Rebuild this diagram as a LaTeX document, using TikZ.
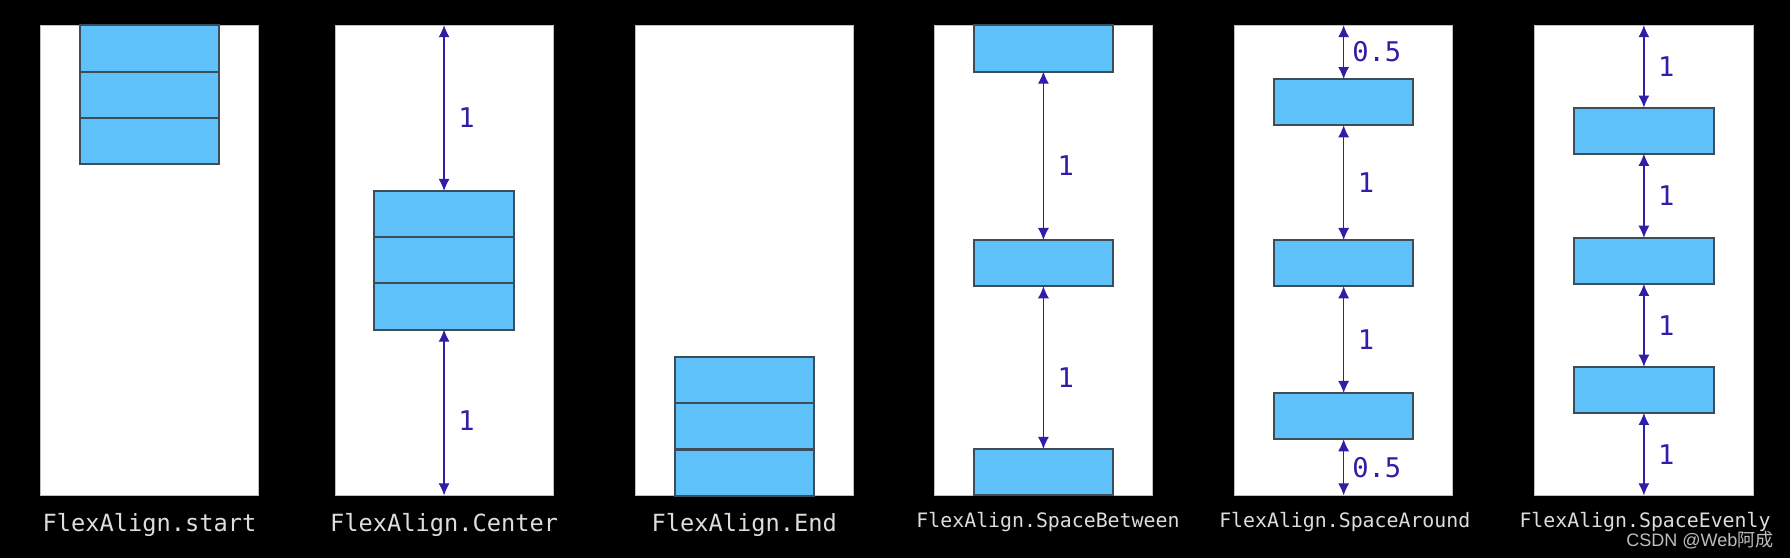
\documentclass[tikz,border=0pt]{standalone}
\usepackage{fontspec}
\setmonofont{DejaVu Sans Mono}
\newfontfamily\cjk{Noto Sans CJK SC}
\newfontfamily\marksans{Liberation Sans}
\usetikzlibrary{arrows.meta}
\definecolor{boxblue}{RGB}{95,193,249}
\definecolor{boxline}{RGB}{60,77,89}
\definecolor{gapblue}{RGB}{46,31,166}
\definecolor{capgray}{RGB}{221,221,221}
\definecolor{markgray}{RGB}{190,190,190}

\begin{document}
\begin{tikzpicture}[x=0.02cm, y=-0.02cm,
    panel/.style={draw=gray!50, fill=white, minimum width=3.82cm, minimum height=8.24cm, inner sep=0, outer sep=0},
    item/.style={draw=boxline, fill=boxblue, line width=1pt, minimum width=2.44cm, minimum height=0.81cm, inner sep=0, outer sep=0},
    gap/.style={gapblue, line width=0.6pt, {Latex[length=6pt,width=5.5pt]}-{Latex[length=6pt,width=5.5pt]}},
    num/.style={gapblue, font=\fontsize{13.5}{13.5}\ttfamily, right, inner sep=0, xshift=0.24cm},
    caption/.style={capgray, font=\fontsize{11.8}{12}\ttfamily},
    smallcap/.style={capgray, font=\fontsize{9.9}{10}\ttfamily}]
    \fill (0, 0) rectangle (1568, 489);
    % the six containers
    \node[panel] (p1) at (131, 228) {};
    \node[panel] (p2) at (389, 228) {};
    \node[panel] (p3) at (652, 228) {};
    \node[panel] (p4) at (914, 228) {};
    \node[panel] (p5) at (1177, 228) {};
    \node[panel] (p6) at (1440, 228) {};
    % start, center, end
    \foreach \i/\y in {1/42.5, 2/83, 3/123.5}
        \node[item] (s\i) at (131, \y) {};
    \foreach \i/\y in {1/187.5, 2/228, 3/268.5}
        \node[item] (c\i) at (389, \y) {};
    \foreach \i/\y in {1/333, 2/373.5, 3/414}
        \node[item] (e\i) at (652, \y) {};
    \draw[gap] (p2.north) -- (c1.north) node[num, pos=.56] {1};
    \draw[gap] (c3.south) -- (p2.south) node[num, pos=.55] {1};
    % space between
    \foreach \i/\y in {1/42.5, 2/230.5, 3/413.5}
        \node[item] (b\i) at (914, \y) {};
    \draw[gap] (b1.south) -- (b2.north) node[num, pos=.56] {1};
    \draw[gap] (b2.south) -- (b3.north) node[num, pos=.56] {1};
    % space around
    \foreach \i/\y in {1/89.5, 2/230.5, 3/364.5}
        \node[item] (a\i) at (1177, \y) {};
    \draw[gap] (p5.north) -- (a1.north) node[num, pos=.5, xshift=-0.1cm] {0.5};
    \draw[gap] (a1.south) -- (a2.north) node[num, pos=.5] {1};
    \draw[gap] (a2.south) -- (a3.north) node[num, pos=.5] {1};
    \draw[gap] (a3.south) -- (p5.south) node[num, pos=.5, xshift=-0.1cm] {0.5};
    % space evenly
    \foreach \i/\y in {1/114.5, 2/228.5, 3/341.5}
        \node[item] (v\i) at (1440, \y) {};
    \draw[gap] (p6.north) -- (v1.north) node[num, pos=.5] {1};
    \draw[gap] (v1.south) -- (v2.north) node[num, pos=.5] {1};
    \draw[gap] (v2.south) -- (v3.north) node[num, pos=.5] {1};
    \draw[gap] (v3.south) -- (p6.south) node[num, pos=.5] {1};
    % captions
    \node[caption] (t1) at (131, 460) {FlexAlign.start};
    \node[caption] (t2) at (389, 460) {FlexAlign.Center};
    \node[caption] (t3) at (652, 460) {FlexAlign.End};
    \node[smallcap] (t4) at (918, 457) {FlexAlign.SpaceBetween};
    \node[smallcap] (t5) at (1178, 457) {FlexAlign.SpaceAround};
    \node[smallcap] (t6) at (1441, 457) {FlexAlign.SpaceEvenly};
    \node[anchor=east, markgray, inner sep=0, font=\fontsize{9}{10}\selectfont] (mark) at (1554, 473) {\marksans CSDN @Web\cjk 阿成};
\end{tikzpicture}
\end{document}
